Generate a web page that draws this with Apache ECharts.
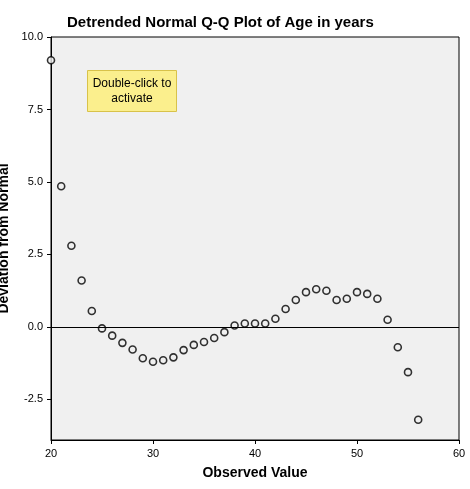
<!DOCTYPE html><html><head><meta charset="utf-8"><script src="https://cdn.jsdelivr.net/npm/echarts@6/dist/echarts.min.js"></script></head><body style="margin:0;background:#fff"><div id="c" style="width:470px;height:489px"></div><script>
const xs=[20,21,22,23,24,25,26,27,28,29,30,31,32,33,34,35,36,37,38,39,40,41,42,43,44,45,46,47,48,49,50,51,52,53,54,55,56];
const ys=[9.2,4.85,2.8,1.6,0.55,-0.05,-0.3,-0.55,-0.78,-1.08,-1.2,-1.15,-1.05,-0.8,-0.62,-0.52,-0.38,-0.18,0.05,0.12,0.12,0.12,0.28,0.62,0.93,1.2,1.3,1.25,0.93,0.97,1.2,1.14,0.97,0.25,-0.7,-1.56,-3.2];
const yTicks=[-2.5,0,2.5,5,7.5,10];
const ch=echarts.init(document.getElementById('c'));
const f='Arial, Liberation Sans';
ch.setOption({animation:false,
title:{text:'Detrended Normal Q-Q Plot of Age in years',left:62,top:10,textStyle:{fontFamily:f,fontSize:15,fontWeight:'bold',color:'#000'}},
grid:{left:51,right:11,top:37,bottom:49,outerBoundsMode:'none',containLabel:false,show:true,backgroundColor:'#f0f0f0',borderColor:'#000',borderWidth:1},
xAxis:{type:'value',min:20,max:60,interval:10,name:'Observed Value',nameLocation:'middle',nameGap:26,nameTextStyle:{fontFamily:f,fontSize:14,fontWeight:'bold',color:'#000'},axisLine:{onZero:false,lineStyle:{color:'#000'}},axisTick:{length:4,lineStyle:{color:'#000'}},axisLabel:{fontFamily:f,fontSize:11,color:'#000'},splitLine:{show:false}},
yAxis:{type:'value',min:-3.9,max:10,name:'Deviation from Normal',nameLocation:'middle',nameGap:38,nameTextStyle:{fontFamily:f,fontSize:14,fontWeight:'bold',color:'#000'},axisLine:{lineStyle:{color:'#000'}},axisTick:{length:4,customValues:yTicks,lineStyle:{color:'#000'}},axisLabel:{fontFamily:f,fontSize:11,color:'#000',customValues:yTicks,formatter:v=>v.toFixed(1)},splitLine:{show:false}},
graphic:[{type:'group',left:87,top:70,children:[{type:'rect',shape:{width:89,height:41},style:{fill:'#fbef8d',stroke:'#d8c24a'}},{type:'text',style:{text:'Double-click to\nactivate',x:44.5,y:20.5,align:'center',verticalAlign:'middle',font:'12px Arial',fill:'#000',lineHeight:15}}]}],
series:[{type:'scatter',data:xs.map((x,i)=>[x,ys[i]]),symbol:'circle',symbolSize:7,itemStyle:{color:'#f0f0f0',borderColor:'#000',borderWidth:1.6},
markLine:{silent:true,symbol:'none',label:{show:false},lineStyle:{color:'#000',type:'solid',width:1},data:[{yAxis:0}]}}]});
</script></body></html>
